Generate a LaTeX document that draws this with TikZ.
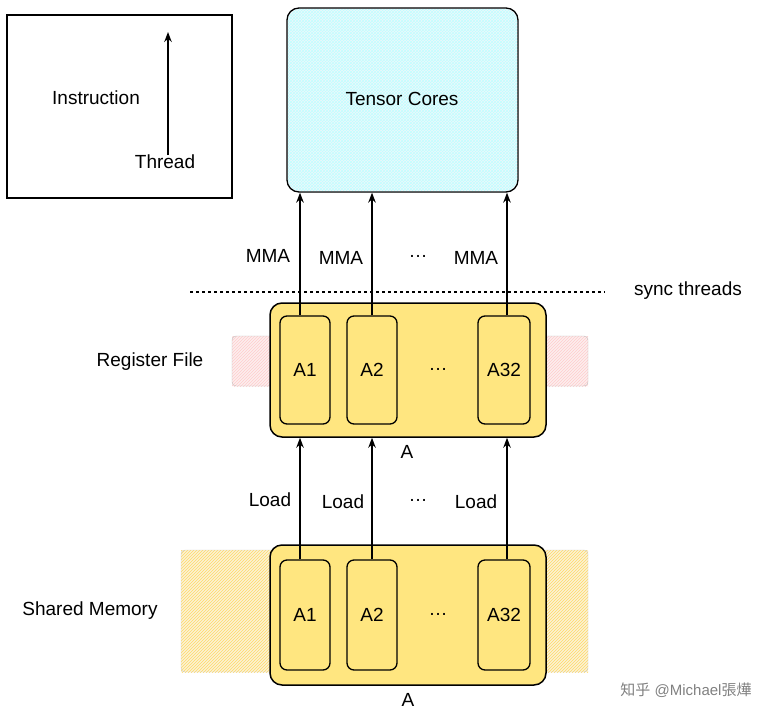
\documentclass[tikz,border=0pt]{standalone}
\usepackage{fontspec}
\setmainfont{Liberation Sans}
\newfontfamily\cjk{Noto Sans CJK SC}
\usetikzlibrary{patterns,arrows.meta}
\definecolor{ylw}{HTML}{FFE680}
\definecolor{ylwside}{HTML}{FBF3D5}
\definecolor{pinkside}{HTML}{FCEEEE}
\definecolor{bluef}{HTML}{EEF6FB}
\tikzset{
 x=1pt,y=-1pt,
 lbl/.style={font=\fontsize{19}{22}\selectfont},
 outer/.style={draw=black,line width=1.5pt,rounded corners=12pt,fill=ylw},
 inner/.style={draw=black,line width=1.3pt,rounded corners=7pt,fill=ylw,font=\fontsize{19}{22}\selectfont},
 arr/.style={-{Stealth[length=10pt]},line width=1.6pt},
}
\begin{document}
\begin{tikzpicture}
\useasboundingbox (0,0) rectangle (768,723);
% legend
\node[draw,line width=1.3pt,minimum width=225pt,minimum height=183pt] (leg) at (119.5,106.5) {};
\coordinate (tb) at (168,155); \coordinate (tt) at (168,32);
\draw[arr] (tb) -- (tt);
\node[lbl] (ins) at (96,98) {Instruction};
\node[lbl] (thr) at (165,162) {Thread};
% tensor cores
\node[draw,line width=1.3pt,rounded corners=12pt,fill=bluef,minimum width=231pt,minimum height=184pt] (tc) at (402.5,100) {};
\fill[pattern=crosshatch,pattern color=cyan!25!white,rounded corners=12pt] (288,9) rectangle (517,191);
\node[lbl] at (402,99) {Tensor Cores};
% sync
\coordinate (s1) at (190,292); \coordinate (s2) at (605,292);
\draw[dashed,line width=1.2pt] (s1) -- (s2);
\node[lbl] (sync) at (688,291) {sync threads};
% register file
\fill[pinkside] (232,336) rectangle (588,386);
\fill[pattern=north east lines,pattern color=red!20] (232,336) rectangle (588,386);
\draw[gray!50,rounded corners=4pt] (232,336) rectangle (588,386);
\node[outer,minimum width=276pt,minimum height=134pt] (rf) at (408,370) {};
\node[inner,minimum width=50pt,minimum height=108pt] (ra1) at (305,370) {A1};
\node[inner,minimum width=50pt,minimum height=108pt] (ra2) at (372,370) {A2};
\node[inner,minimum width=52pt,minimum height=108pt] (ra32) at (504,370) {A32};
\node[lbl] (rdots) at (438,369) {\dots};
\node[lbl] (rA) at (407,452) {A};
\node[lbl] (rfl) at (150,362) {Register File};
% shared memory
\fill[ylwside] (181,550) rectangle (588,672);
\fill[pattern=north east lines,pattern color=yellow!50!orange!60] (181,550) rectangle (588,672);
\draw[gray!40,rounded corners=4pt] (181,550) rectangle (588,672);
\node[outer,minimum width=276pt,minimum height=140pt] (sm) at (408,615) {};
\node[inner,minimum width=50pt,minimum height=110pt] (sa1) at (305,615) {A1};
\node[inner,minimum width=50pt,minimum height=110pt] (sa2) at (372,615) {A2};
\node[inner,minimum width=52pt,minimum height=110pt] (sa32) at (504,615) {A32};
\node[lbl] (sdots) at (438,614) {\dots};
\node[lbl] (sA) at (408,700) {A};
\node[lbl] (sml) at (90,611) {Shared Memory};
% MMA arrows
\draw[arr] (ra1.north -| 300,0) -- (tc.south -| 300,0);
\draw[arr] (ra2.north) -- (tc.south -| ra2.north);
\draw[arr] (ra32.north -| 507,0) -- (tc.south -| 507,0);
\node[lbl] at (268,256) {MMA};
\node[lbl] at (341,258) {MMA};
\node[lbl] at (418,256) {\dots};
\node[lbl] at (476,258) {MMA};
% Load arrows
\draw[arr] (sa1.north -| 300,0) -- (rf.south -| 300,0);
\draw[arr] (sa2.north) -- (rf.south -| sa2.north);
\draw[arr] (sa32.north -| 507,0) -- (rf.south -| 507,0);
\node[lbl] at (270,500) {Load};
\node[lbl] at (343,502) {Load};
\node[lbl] at (418,500) {\dots};
\node[lbl] at (476,502) {Load};
% watermark
\node[gray,font=\fontsize{15}{18}\selectfont] (wm) at (686,690) {{\cjk 知乎} @Michael{\cjk 張燁}};
\end{tikzpicture}
\end{document}
